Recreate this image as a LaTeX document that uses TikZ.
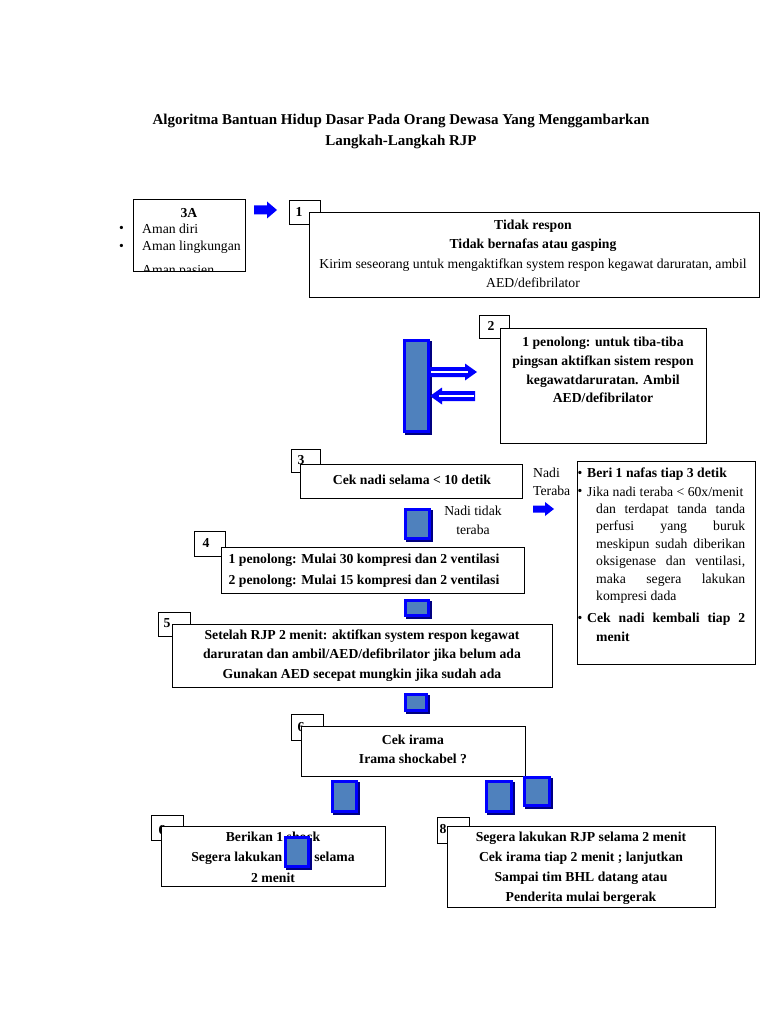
\documentclass[tikz,border=0pt]{standalone}
\usepackage{fontspec}
\setmainfont{Liberation Serif}
\definecolor{sqfill}{HTML}{4F81BD}
\definecolor{bblue}{HTML}{0000FF}
\definecolor{sqshade}{HTML}{000080}
\newcommand{\myfs}[1]{\fontsize{13.7}{#1}\selectfont}
\tikzset{
  box/.style={draw=black, fill=white, line width=0.9pt, inner sep=0pt, anchor=north west},
  numtxt/.style={font=\myfs{16}\bfseries, inner sep=0pt},
  txt/.style={font=\myfs{19}, align=center, inner sep=0pt},
  btxt/.style={font=\myfs{19}\bfseries, align=center, inner sep=0pt},
  ltxt/.style={font=\myfs{19}, inner sep=0pt, anchor=west},
  lbtxt/.style={font=\myfs{19}\bfseries, inner sep=0pt, anchor=west},
  bluesq/.style={draw=bblue, fill=sqfill, line width=2.6pt, inner sep=0pt},
}
% blue block: name, x1, y1, x2, y2
\newcommand{\bsq}[5]{%
  \fill[sqshade] (#2+1.8,#3+1.8) rectangle (#4+1.8,#5+1.8);
  \node[bluesq, minimum width={#4-#2-2.6}, minimum height={#5-#3-2.6}] (#1) at ({(#2+#4)/2},{(#3+#5)/2}) {};
}
% block arrow: x1 (tail), x2 (tip), y, body half, head half, head length
\newcommand{\barr}[6]{%
  \fill[bblue] (#1,{#3-#4}) -- ({#2-(#6)*sign(#2-#1)},{#3-#4}) -- ({#2-(#6)*sign(#2-#1)},{#3-#5})
    -- (#2,#3) -- ({#2-(#6)*sign(#2-#1)},{#3+#5}) -- ({#2-(#6)*sign(#2-#1)},{#3+#4}) -- (#1,{#3+#4}) -- cycle;
}
\begin{document}
\begin{tikzpicture}[x=1pt,y=-1pt]
\useasboundingbox (0,0) rectangle (768,1024);
\fill[white] (0,0) rectangle (768,1024);

% title
\node[font=\fontsize{15}{21}\selectfont\bfseries, align=center, inner sep=0pt] (title) at (401,131)
  {Algoritma Bantuan Hidup Dasar Pada Orang Dewasa Yang Menggambarkan\\Langkah-Langkah RJP};

% 3A box
\node[box, minimum width=112pt, minimum height=72pt] (a3) at (133,199) {};
\node[btxt] (a3t) at (189,213) {3A};
\begin{scope}
  \clip (100,190) rectangle (260,270.5);
  \node[ltxt] (a3l1) at (142,229) {Aman diri};
  \node[ltxt] (a3l2) at (142,247) {Aman lingkungan};
  \node[ltxt] (a3l3) at (142,271.5) {Aman pasien};
  \node[ltxt] (a3b1) at (119,229) {\textbullet};
  \node[ltxt] (a3b2) at (119,247) {\textbullet};
\end{scope}
\draw[line width=0.9pt] (a3.north west) rectangle (a3.south east);

% arrow 3A -> 1
\barr{254}{277}{210}{4.5}{8.5}{10}

% box 1
\node[box, minimum width=31pt, minimum height=24pt] (n1) at (289,200) {};
\node[numtxt] (n1t) at (299,212) {1};
\node[box, minimum width=450pt, minimum height=85pt] (b1) at (309,212) {};
\node[btxt] (b1a) at (533,236) {Tidak respon\\Tidak bernafas atau gasping};
\node[txt] (b1b) at (533,273.5) {Kirim seseorang untuk mengaktifkan system respon kegawat daruratan, ambil\\AED/defibrilator};

% box 2
\node[box, minimum width=30pt, minimum height=23pt] (n2) at (479,315) {};
\node[numtxt] (n2t) at (491,326) {2};
\node[box, minimum width=206pt, minimum height=115pt] (b2) at (500,328) {};
\node[btxt, font=\myfs{18.7}\bfseries] (b2t) at (603,370)
  {1 penolong: untuk tiba-tiba\\pingsan aktifkan sistem respon\\kegawatdaruratan. Ambil\\AED/defibrilator};

% big blue bar and double arrows
\bsq{bar}{403}{339}{430}{433}
\barr{430}{477}{372}{5}{8.5}{12}
\draw[white, line width=1.5pt] (431,372) -- (468,372);
\barr{475}{430}{396}{5}{8.5}{12}
\draw[white, line width=1.5pt] (474,396) -- (439,396);

% box 3
\node[box, minimum width=29pt, minimum height=23pt] (n3) at (291,449) {};
\node[numtxt] (n3t) at (301,460) {3};
\node[box, minimum width=222pt, minimum height=34pt] (b3) at (300,464) {};
\node[btxt] (b3t) at (412,480) {Cek nadi selama < 10 detik};

% Nadi teraba labels and arrow
\node[ltxt] (nt1) at (533,473) {Nadi};
\node[ltxt] (nt2) at (533,491) {Teraba};
\barr{533}{554}{509}{3.5}{7}{9}

% right box
\node[box, minimum width=178pt, minimum height=203pt] (rb) at (577,461) {};
\node[ltxt] (rbb1) at (577.5,474) {\textbullet};
\node[ltxt] (rbb2) at (577.5,492) {\textbullet};
\node[ltxt] (rbb3) at (577.5,619) {\textbullet};
\node[lbtxt] (r1) at (587,474) {Beri 1 nafas tiap 3 detik};
\node[ltxt] (r2) at (587,492) {Jika nadi teraba < 60x/menit};
\node[ltxt] (r3) at (596,510) {\makebox[149pt][s]{dan terdapat tanda tanda}};
\node[ltxt] (r4) at (596,527.5) {\makebox[149pt][s]{perfusi yang buruk}};
\node[ltxt] (r5) at (596,545) {\makebox[149pt][s]{meskipun sudah diberikan}};
\node[ltxt] (r6) at (596,562.5) {\makebox[149pt][s]{oksigenase dan ventilasi,}};
\node[ltxt] (r7) at (596,580) {\makebox[149pt][s]{maka segera lakukan}};
\node[ltxt] (r8) at (596,597.5) {kompresi dada};
\node[lbtxt] (r9) at (587,619) {\makebox[158pt][s]{Cek nadi kembali tiap 2}};
\node[lbtxt] (r10) at (596,637) {menit};

% square below 3 and label
\bsq{sq3}{404}{508}{431}{540}
\node[txt] (ntt) at (473,520) {Nadi tidak\\teraba};

% box 4
\node[box, minimum width=31pt, minimum height=25pt] (n4) at (194,531) {};
\node[numtxt] (n4t) at (206,543) {4};
\node[box, minimum width=303pt, minimum height=46pt] (b4) at (221,547) {};
\node[btxt, font=\myfs{21}\bfseries] (b4t) at (364,571)
  {1 penolong: Mulai 30 kompresi dan 2 ventilasi\\2 penolong: Mulai 15 kompresi dan 2 ventilasi};

\bsq{sq4}{404}{599}{430}{617}

% box 5
\node[box, minimum width=32pt, minimum height=24pt] (n5) at (158,612) {};
\node[numtxt] (n5t) at (167,623) {5};
\node[box, minimum width=380pt, minimum height=63pt] (b5) at (172,624) {};
\node[btxt, font=\myfs{19.5}\bfseries] (b5t) at (362,655.5)
  {Setelah RJP 2 menit: aktifkan system respon kegawat\\daruratan dan ambil/AED/defibrilator jika belum ada\\Gunakan AED secepat mungkin jika sudah ada};

\bsq{sq5}{404}{693}{428}{712}

% box 6
\node[box, minimum width=32pt, minimum height=26pt] (n6) at (291,714) {};
\node[numtxt] (n6t) at (301,727) {6};
\node[box, minimum width=224pt, minimum height=50pt] (b6) at (301,726) {};
\node[btxt] (b6t) at (413,749) {Cek irama\\Irama shockabel ?};

\bsq{sqL}{331}{780}{358}{813}
\bsq{sqM}{485}{780}{513}{813}
\bsq{sqR}{523}{776}{551}{807}

% box 7 (left)
\node[box, minimum width=32pt, minimum height=25pt] (n7) at (151,815) {};
\node[numtxt] (n7t) at (162,830) {6};
\node[box, minimum width=224pt, minimum height=60pt] (b7) at (161,826) {};
\node[btxt, font=\myfs{20.5}\bfseries] (b7t) at (273,857)
  {Berikan 1 shock\\Segera lakukan RJP selama\\2 menit};
\bsq{sq7}{284}{836}{310}{868}

% box 8
\node[box, minimum width=32pt, minimum height=26pt] (n8) at (437,817) {};
\node[numtxt] (n8t) at (443,829) {8};
\node[box, minimum width=268pt, minimum height=81pt] (b8) at (447,826) {};
\node[btxt, font=\myfs{20}\bfseries] (b8t) at (581,868)
  {Segera lakukan RJP selama 2 menit\\Cek irama tiap 2 menit ; lanjutkan\\Sampai tim BHL datang atau\\Penderita mulai bergerak};
\end{tikzpicture}
\end{document}
